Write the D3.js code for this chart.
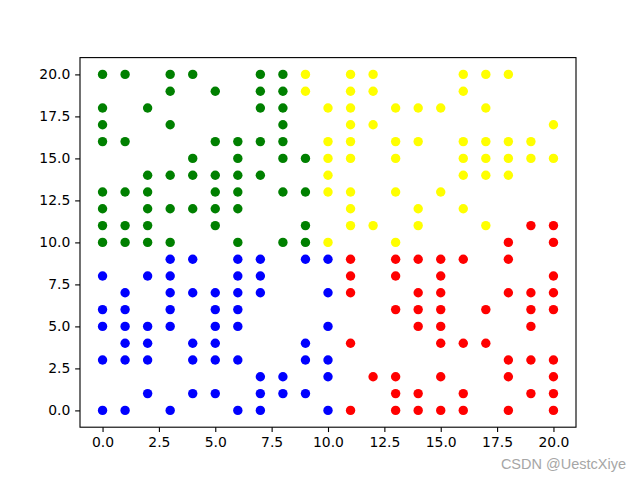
<!DOCTYPE html>
<html>
<head>
<meta charset="utf-8">
<script src="https://cdn.jsdelivr.net/npm/d3@7"></script>
<style>
  html, body { margin: 0; padding: 0; background: #fff; }
  svg { display: block; }
</style>
</head>
<body>
<script>
// Data: [x, y] pairs per colour group
const green = [
  [0,20],[1,20],[3,20],[4,20],[7,20],[8,20],
  [3,19],[5,19],[7,19],[8,19],
  [0,18],[2,18],[7,18],[8,18],
  [0,17],[3,17],[8,17],
  [0,16],[1,16],[5,16],[6,16],[7,16],[8,16],
  [4,15],[6,15],[8,15],[9,15],
  [2,14],[3,14],[4,14],[5,14],[6,14],[7,14],
  [0,13],[1,13],[2,13],[5,13],[6,13],[8,13],[9,13],
  [0,12],[2,12],[3,12],[4,12],[5,12],[6,12],
  [0,11],[1,11],[2,11],[5,11],[9,11],
  [0,10],[1,10],[2,10],[3,10],[6,10],[8,10],[9,10]
];
const yellow = [
  [9,20],[11,20],[12,20],[16,20],[17,20],[18,20],
  [9,19],[11,19],[12,19],[16,19],
  [10,18],[11,18],[13,18],[14,18],[15,18],[17,18],
  [11,17],[12,17],[20,17],
  [10,16],[11,16],[13,16],[14,16],[16,16],[17,16],[18,16],[19,16],
  [10,15],[11,15],[13,15],[16,15],[17,15],[18,15],[19,15],[20,15],
  [10,14],[16,14],[17,14],[18,14],
  [10,13],[11,13],[13,13],[15,13],
  [11,12],[14,12],[16,12],
  [11,11],[12,11],[14,11],[17,11],
  [10,10],[13,10]
];
const blue = [
  [3,9],[4,9],[6,9],[7,9],[9,9],[10,9],
  [0,8],[2,8],[3,8],[6,8],[7,8],
  [1,7],[3,7],[4,7],[5,7],[6,7],[7,7],[10,7],
  [0,6],[1,6],[3,6],[5,6],[6,6],
  [0,5],[1,5],[2,5],[3,5],[5,5],[6,5],[10,5],
  [1,4],[2,4],[4,4],[5,4],[9,4],
  [0,3],[1,3],[2,3],[4,3],[5,3],[6,3],[9,3],[10,3],
  [7,2],[8,2],[10,2],
  [2,1],[4,1],[5,1],[7,1],[8,1],[9,1],
  [0,0],[1,0],[3,0],[6,0],[7,0],[10,0]
];
const red = [
  [19,11],[20,11],
  [18,10],[20,10],
  [11,9],[13,9],[14,9],[15,9],[16,9],[18,9],
  [11,8],[13,8],[15,8],[20,8],
  [11,7],[14,7],[15,7],[18,7],[19,7],[20,7],
  [13,6],[14,6],[15,6],[17,6],[19,6],[20,6],
  [14,5],[15,5],[19,5],
  [11,4],[15,4],[16,4],[17,4],
  [18,3],[19,3],[20,3],
  [12,2],[13,2],[15,2],[18,2],[20,2],
  [13,1],[14,1],[16,1],[19,1],[20,1],
  [11,0],[13,0],[14,0],[15,0],[16,0],[18,0],[20,0]
];
const tickValues = [0, 2.5, 5, 7.5, 10, 12.5, 15, 17.5, 20];
const groups = [
  { data: green, color: "#008000" },
  { data: yellow, color: "#ffff00" },
  { data: blue, color: "#0000ff" },
  { data: red, color: "#ff0000" }
];

const W = 640, H = 480;
const L = 80, R = 576, T = 57.6, B = 427.2;

const svg = d3.select("body").append("svg")
  .attr("width", W).attr("height", H);

const x = d3.scaleLinear().domain([-1, 21]).range([L, R]);
const y = d3.scaleLinear().domain([-1, 21]).range([B, T]);

const fmt = d3.format(".1f");
const tickLen = 4.86;

// points
groups.forEach(g => {
  svg.append("g").selectAll("circle")
    .data(g.data)
    .enter().append("circle")
    .attr("cx", d => x(d[0]))
    .attr("cy", d => y(d[1]))
    .attr("r", 4.7)
    .attr("fill", g.color);
});

// axes
const xAxis = svg.append("g")
  .attr("transform", `translate(0,${B})`)
  .call(d3.axisBottom(x).tickValues(tickValues).tickFormat(fmt)
    .tickSize(tickLen).tickPadding(4.86));
const yAxis = svg.append("g")
  .attr("transform", `translate(${L},0)`)
  .call(d3.axisLeft(y).tickValues(tickValues).tickFormat(fmt)
    .tickSize(tickLen).tickPadding(4.86));

[xAxis, yAxis].forEach(a => {
  a.select(".domain").remove();
  a.selectAll(".tick line").attr("stroke", "#000").attr("stroke-width", 1.11);
  a.selectAll(".tick text")
    .attr("fill", "#000")
    .style("font-family", "DejaVu Sans")
    .style("font-size", "13.9px");
});

// spines
svg.append("rect")
  .attr("x", L).attr("y", T)
  .attr("width", R - L).attr("height", B - T)
  .attr("fill", "none")
  .attr("stroke", "#000")
  .attr("stroke-width", 1.11);

// watermark
svg.append("text")
  .attr("x", 626).attr("y", 469)
  .attr("text-anchor", "end")
  .style("font-family", "Liberation Sans, Arial, sans-serif")
  .style("font-size", "14.5px")
  .attr("fill", "#a6a6a6")
  .text("CSDN @UestcXiye");
</script>
</body>
</html>
